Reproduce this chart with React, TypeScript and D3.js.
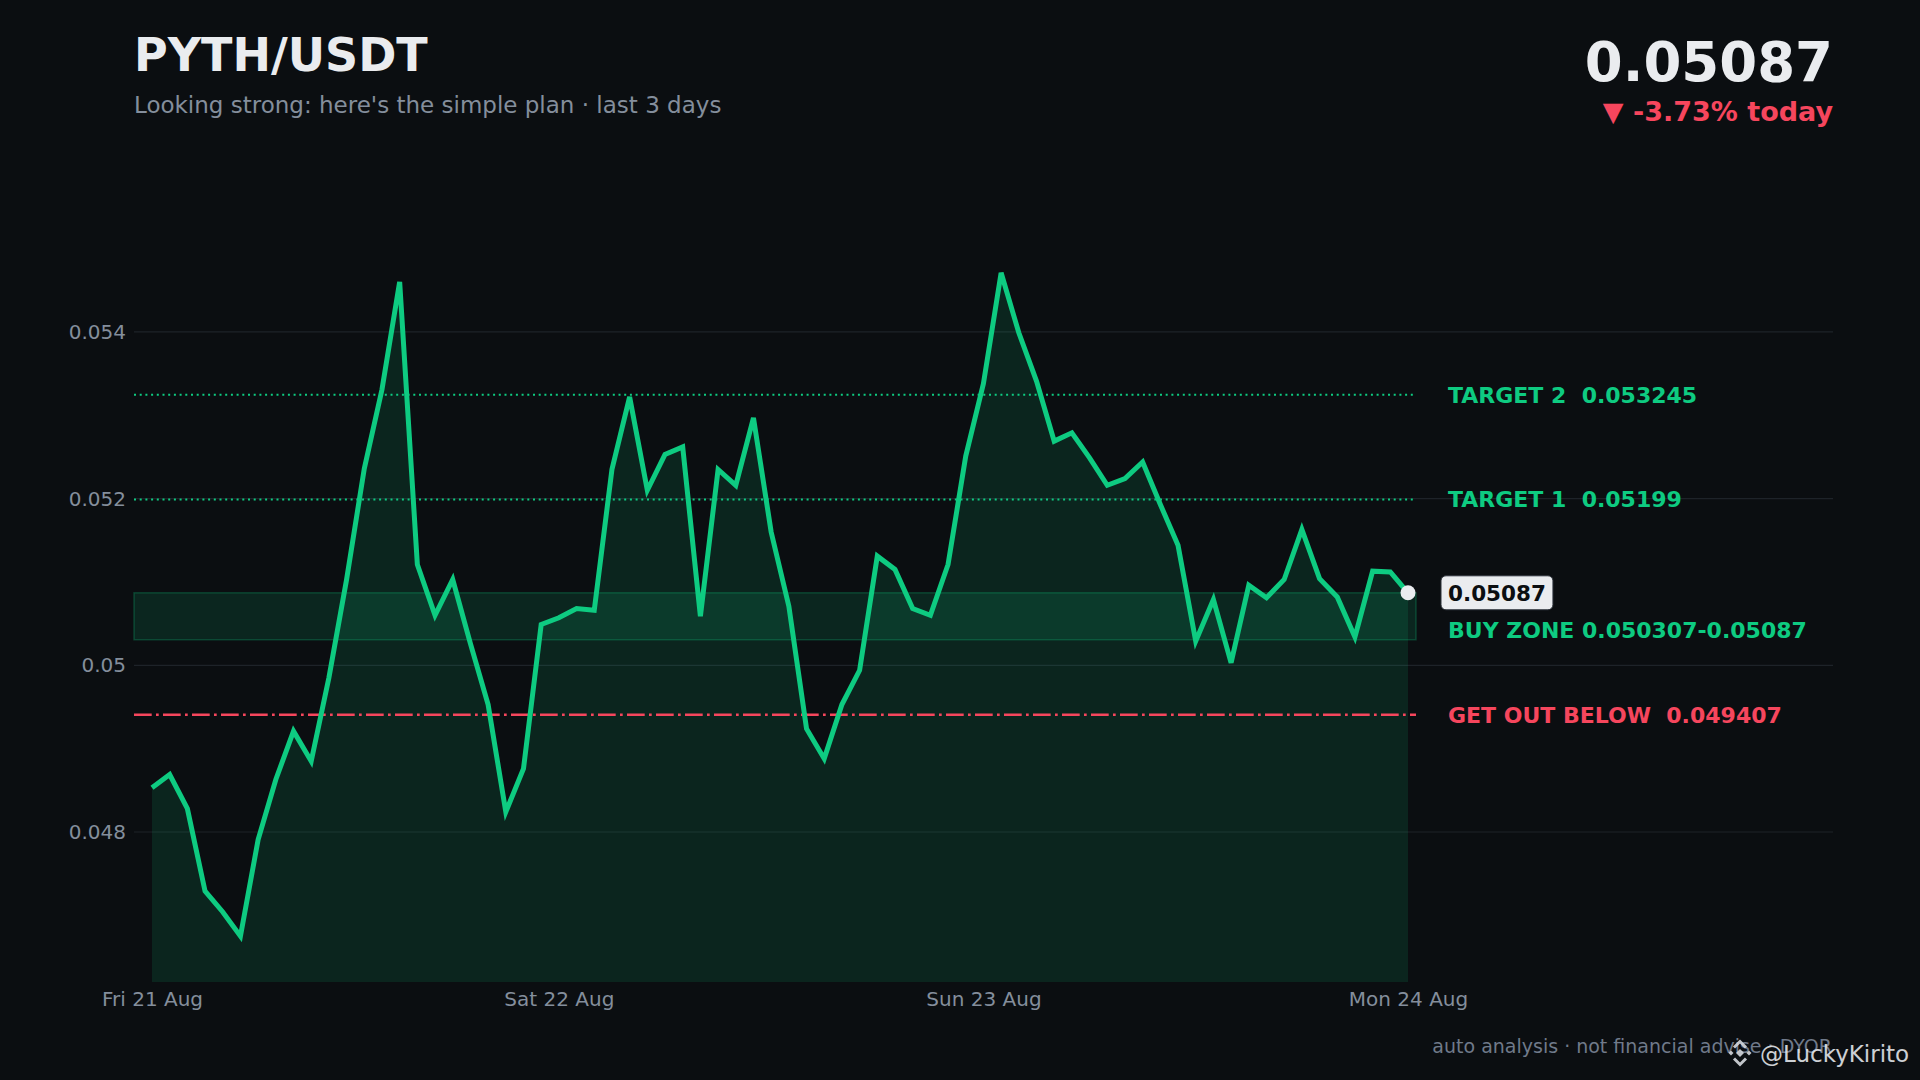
//@ts-nocheck
import React, { useRef, useEffect } from 'react'
import * as d3 from 'd3'

// hourly closes, PYTH/USDT, last 3 days
const prices = [
  0.04853, 0.04869, 0.04828, 0.04729, 0.04704, 0.04675, 0.04791, 0.04863, 0.04921, 0.04885,
  0.04985, 0.05103, 0.05236, 0.05331, 0.0546, 0.05121, 0.0506, 0.05103, 0.05026, 0.04953,
  0.04824, 0.04876, 0.05049, 0.05057, 0.05068, 0.05066, 0.05235, 0.05322, 0.0521, 0.05253,
  0.05262, 0.05059, 0.05235, 0.05216, 0.05297, 0.0516, 0.05071, 0.04924, 0.04888, 0.04953,
  0.04994, 0.05131, 0.05115, 0.05068, 0.0506, 0.05121, 0.05251, 0.05338, 0.05471, 0.05399,
  0.05341, 0.05269, 0.05279, 0.05249, 0.05216, 0.05224, 0.05244, 0.05193, 0.05144, 0.05029,
  0.05079, 0.05003, 0.05096, 0.05081, 0.05103, 0.05163, 0.05104, 0.05082, 0.05034, 0.05113,
  0.05112, 0.05087
]

const dayTickIdx = [0, 23, 47, 71]
const dayLabels = ['Fri 21 Aug', 'Sat 22 Aug', 'Sun 23 Aug', 'Mon 24 Aug']
const yTicks = [0.048, 0.05, 0.052, 0.054]
const yTickLabels = ['0.048', '0.05', '0.052', '0.054']

const lastPrice = 0.05087
const changePct = -3.73
const target2 = 0.053245
const target1 = 0.05199
const buyLow = 0.050307
const buyHigh = 0.05087
const stopLevel = 0.049407

const GREEN = '#0ecb81'
const RED = '#f6465d'
const BG = '#0b0e11'
const TXT = '#eaecef'
const MUTED = '#848e9c'
const FONT = '"DejaVu Sans", sans-serif'

const W = 1920
const H = 1080

const Chart = () => {
  const node = useRef(null)

  useEffect(() => {
    const svg = d3.select(node.current)
    svg.selectAll('*').remove()
    svg.attr('width', W).attr('height', H).attr('font-family', FONT)

    const plotLeft = 134
    const plotRight = 1833
    const plotBottom = 982

    const x = d3.scaleLinear().domain([0, prices.length - 1]).range([152, 1408])
    const y = d3.scaleLinear().domain([0.0462, 0.0556]).range([plotBottom, 198.6])
    const levelEnd = x(prices.length - 1) + 8

    svg.append('rect').attr('width', W).attr('height', H).attr('fill', BG)

    // grid
    svg
      .append('g')
      .selectAll('line')
      .data(yTicks)
      .join('line')
      .attr('x1', plotLeft)
      .attr('x2', plotRight)
      .attr('y1', (d) => y(d))
      .attr('y2', (d) => y(d))
      .attr('stroke', '#1e2329')
      .attr('stroke-width', 1.2)

    // y axis labels
    const yAxis = svg
      .append('g')
      .attr('transform', `translate(${plotLeft},0)`)
      .call(
        d3
          .axisLeft(y)
          .tickValues(yTicks)
          .tickSize(0)
          .tickPadding(8)
          .tickFormat((d, i) => yTickLabels[i])
      )
    yAxis.select('.domain').remove()
    yAxis.selectAll('text').attr('fill', MUTED).attr('font-size', 20).attr('font-family', FONT)

    // x axis labels
    const xAxis = svg
      .append('g')
      .attr('transform', `translate(0,${plotBottom})`)
      .call(
        d3
          .axisBottom(x)
          .tickValues(dayTickIdx)
          .tickSize(0)
          .tickPadding(10)
          .tickFormat((d, i) => dayLabels[i])
      )
    xAxis.select('.domain').remove()
    xAxis.selectAll('text').attr('fill', MUTED).attr('font-size', 20).attr('font-family', FONT)

    // area under price
    const area = d3
      .area()
      .x((d, i) => x(i))
      .y0(plotBottom)
      .y1((d) => y(d))
    svg.append('path').attr('d', area(prices)).attr('fill', GREEN).attr('fill-opacity', 0.12)

    // buy zone
    svg
      .append('rect')
      .attr('x', plotLeft)
      .attr('y', y(buyHigh))
      .attr('width', levelEnd - plotLeft)
      .attr('height', y(buyLow) - y(buyHigh))
      .attr('fill', GREEN)
      .attr('fill-opacity', 0.13)
      .attr('stroke', GREEN)
      .attr('stroke-opacity', 0.25)
      .attr('stroke-width', 1.5)

    // target lines
    ;[target2, target1].forEach((t) => {
      svg
        .append('line')
        .attr('x1', plotLeft)
        .attr('x2', levelEnd)
        .attr('y1', y(t))
        .attr('y2', y(t))
        .attr('stroke', GREEN)
        .attr('stroke-width', 2)
        .attr('stroke-dasharray', '2,3.7')
    })

    // stop line
    svg
      .append('line')
      .attr('x1', plotLeft)
      .attr('x2', levelEnd)
      .attr('y1', y(stopLevel))
      .attr('y2', y(stopLevel))
      .attr('stroke', RED)
      .attr('stroke-width', 2.5)
      .attr('stroke-dasharray', '17.7,4.3,2.7,4.3')

    // price line
    const line = d3
      .line()
      .x((d, i) => x(i))
      .y((d) => y(d))
    svg
      .append('path')
      .attr('d', line(prices))
      .attr('fill', 'none')
      .attr('stroke', GREEN)
      .attr('stroke-width', 5)
      .attr('stroke-linejoin', 'miter')

    const lastX = x(prices.length - 1)
    const lastY = y(prices[prices.length - 1])
    svg.append('circle').attr('cx', lastX).attr('cy', lastY).attr('r', 7.5).attr('fill', TXT)

    // right-hand labels
    const labelX = 1448
    const fmt = (v) => String(v)
    const addLabel = (txt, yy, color) =>
      svg
        .append('text')
        .attr('x', labelX)
        .attr('y', yy)
        .attr('dy', '0.36em')
        .attr('fill', color)
        .attr('font-size', 22)
        .attr('font-weight', 'bold')
        .style('white-space', 'pre')
        .text(txt)

    addLabel(`TARGET 2  ${fmt(target2)}`, y(target2), GREEN)
    addLabel(`TARGET 1  ${fmt(target1)}`, y(target1), GREEN)
    addLabel(`BUY ZONE ${fmt(buyLow)}-${fmt(buyHigh)}`, y(buyLow) - 10, GREEN)
    addLabel(`GET OUT BELOW  ${fmt(stopLevel)}`, y(stopLevel), RED)

    // last price badge
    const badge = svg.append('g')
    const badgeText = badge
      .append('text')
      .attr('x', labelX)
      .attr('y', lastY)
      .attr('dy', '0.36em')
      .attr('fill', BG)
      .attr('font-size', 21.5)
      .attr('font-weight', 'bold')
      .text(fmt(lastPrice))
    const bb = badgeText.node().getBBox()
    badge
      .insert('rect', 'text')
      .attr('x', labelX - 7)
      .attr('y', lastY - 17)
      .attr('width', bb.width + 14)
      .attr('height', 34)
      .attr('rx', 5)
      .attr('fill', TXT)
      .attr('stroke', '#2b3139')
      .attr('stroke-width', 1)

    // header
    svg
      .append('text')
      .attr('x', 134)
      .attr('y', 71)
      .attr('fill', TXT)
      .attr('font-size', 46)
      .attr('font-weight', 'bold')
      .text('PYTH/USDT')
    svg
      .append('text')
      .attr('x', 134)
      .attr('y', 113)
      .attr('fill', MUTED)
      .attr('font-size', 23)
      .text("Looking strong: here's the simple plan · last 3 days")

    svg
      .append('text')
      .attr('x', 1833)
      .attr('y', 81)
      .attr('text-anchor', 'end')
      .attr('fill', TXT)
      .attr('font-size', 54.5)
      .attr('font-weight', 'bold')
      .text(fmt(lastPrice))
    svg
      .append('text')
      .attr('x', 1833)
      .attr('y', 121)
      .attr('text-anchor', 'end')
      .attr('fill', changePct < 0 ? RED : GREEN)
      .attr('font-size', 27)
      .attr('font-weight', 'bold')
      .text(`${changePct < 0 ? '▼' : '▲'} ${changePct.toFixed(2)}% today`)

    // footer
    svg
      .append('text')
      .attr('x', 1832)
      .attr('y', 1053)
      .attr('text-anchor', 'end')
      .attr('fill', '#707a8a')
      .attr('font-size', 19)
      .text('auto analysis · not financial advise · DYOR')

    // watermark
    const wm = svg.append('g').attr('transform', 'translate(1740,1053)').attr('fill', '#d5d8dd').attr('opacity', 0.9)
    wm.append('path').attr('d', 'M0,-4 L4,0 L0,4 L-4,0 Z')
    wm.append('path').attr('d', 'M-9,-2.5 L-6.5,0 L-9,2.5 L-11.5,0 Z')
    wm.append('path').attr('d', 'M9,-2.5 L11.5,0 L9,2.5 L6.5,0 Z')
    wm.append('path').attr('d', 'M-6,-5.5 L0,-11.5 L6,-5.5').attr('fill', 'none').attr('stroke', '#d5d8dd').attr('stroke-width', 3)
    wm.append('path').attr('d', 'M-6,5.5 L0,11.5 L6,5.5').attr('fill', 'none').attr('stroke', '#d5d8dd').attr('stroke-width', 3)
    svg
      .append('text')
      .attr('x', 1760)
      .attr('y', 1062)
      .attr('fill', '#e3e6ea')
      .attr('opacity', 0.9)
      .attr('font-size', 23)
      .text('@LuckyKirito')
  }, [])

  return <svg ref={node} style={{ display: 'block' }}></svg>
}

export default function App() {
  useEffect(() => {
    document.body.style.margin = '0'
    document.body.style.background = BG
  }, [])
  return (
    <div style={{ position: 'absolute', left: 0, top: 0, width: W, height: H, overflow: 'hidden' }}>
      <Chart />
    </div>
  )
}
